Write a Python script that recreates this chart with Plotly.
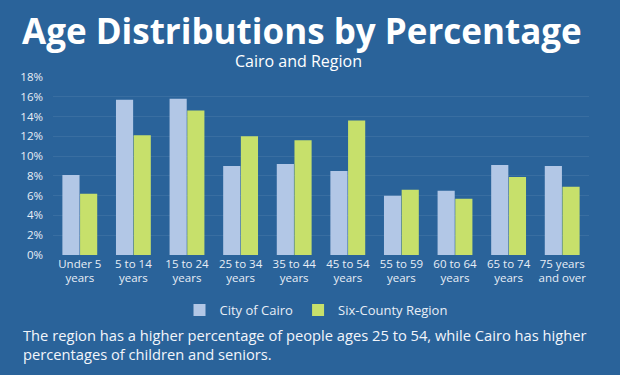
import plotly.graph_objects as go

categories = ["Under 5<br>years", "5 to 14<br>years", "15 to 24<br>years", "25 to 34<br>years",
              "35 to 44<br>years", "45 to 54<br>years", "55 to 59<br>years", "60 to 64<br>years",
              "65 to 74<br>years", "75 years<br>and over"]
cairo = [8.1, 15.7, 15.8, 9.0, 9.2, 8.5, 6.0, 6.5, 9.1, 9.0]
region = [6.2, 12.1, 14.6, 12.0, 11.6, 13.6, 6.6, 5.7, 7.9, 6.9]
tick_vals = [0, 2, 4, 6, 8, 10, 12, 14, 16, 18]
tick_text = ["0%", "2%", "4%", "6%", "8%", "10%", "12%", "14%", "16%", "18%"]

BG = "#2a639a"
FONT = "Open Sans"

W, H = 620, 375
L, R, T, B = 53, 31, 77, 120
pw, ph = W - L - R, H - T - B

def px(x):
    return (x - L) / pw

def py(y):
    return (H - B - y) / ph

fig = go.Figure()
fig.add_trace(go.Bar(x=categories, y=cairo, name="City of Cairo",
                     marker=dict(color="#b2c7e6", line=dict(width=0))))
fig.add_trace(go.Bar(x=categories, y=region, name="Six-County Region",
                     marker=dict(color="#c7e06b", line=dict(width=0))))

fig.update_layout(
    width=W, height=H,
    margin=dict(l=L, r=R, t=T, b=B),
    paper_bgcolor=BG, plot_bgcolor=BG,
    barmode="group", bargap=0.34, bargroupgap=0.03,
    font=dict(family=FONT, color="white", size=12),
    showlegend=True,
    legend=dict(orientation="h", x=px(316), xanchor="center", y=py(310), yanchor="middle",
                font=dict(size=13, color="#e8eef6"), bgcolor="rgba(0,0,0,0)",
                itemwidth=30, traceorder="normal"),
    xaxis=dict(showgrid=False, showline=False, zeroline=False, ticks="",
               tickfont=dict(size=11.5, color="#e8eef6")),
    yaxis=dict(range=[0, 18], tickvals=tick_vals, ticktext=tick_text,
               showgrid=True, gridcolor="rgba(255,255,255,0.07)", zeroline=False,
               showline=False, ticks="", ticklabelstandoff=9,
               tickfont=dict(size=11.5, color="#e8eef6")),
    annotations=[
        dict(text="<b>Age Distributions by Percentage</b>", x=px(302), y=py(30.5),
             xref="paper", yref="paper", xanchor="center", yanchor="middle",
             showarrow=False, font=dict(size=35, color="white", family=FONT)),
        dict(text="Cairo and Region", x=px(298), y=py(61),
             xref="paper", yref="paper", xanchor="center", yanchor="middle",
             showarrow=False, font=dict(size=16, color="white", family=FONT)),
        dict(text="The region has a higher percentage of people ages 25 to 54, while Cairo has higher<br>percentages of children and seniors.",
             x=px(21), y=py(323), xref="paper", yref="paper", xanchor="left", yanchor="top",
             align="left", showarrow=False,
             font=dict(size=14.7, color="#f2f5fa", family=FONT)),
    ],
)

fig.write_html("out.html", config={"displayModeBar": False},
               post_script="document.body.style.margin='0';document.body.style.background='" + BG + "';")
